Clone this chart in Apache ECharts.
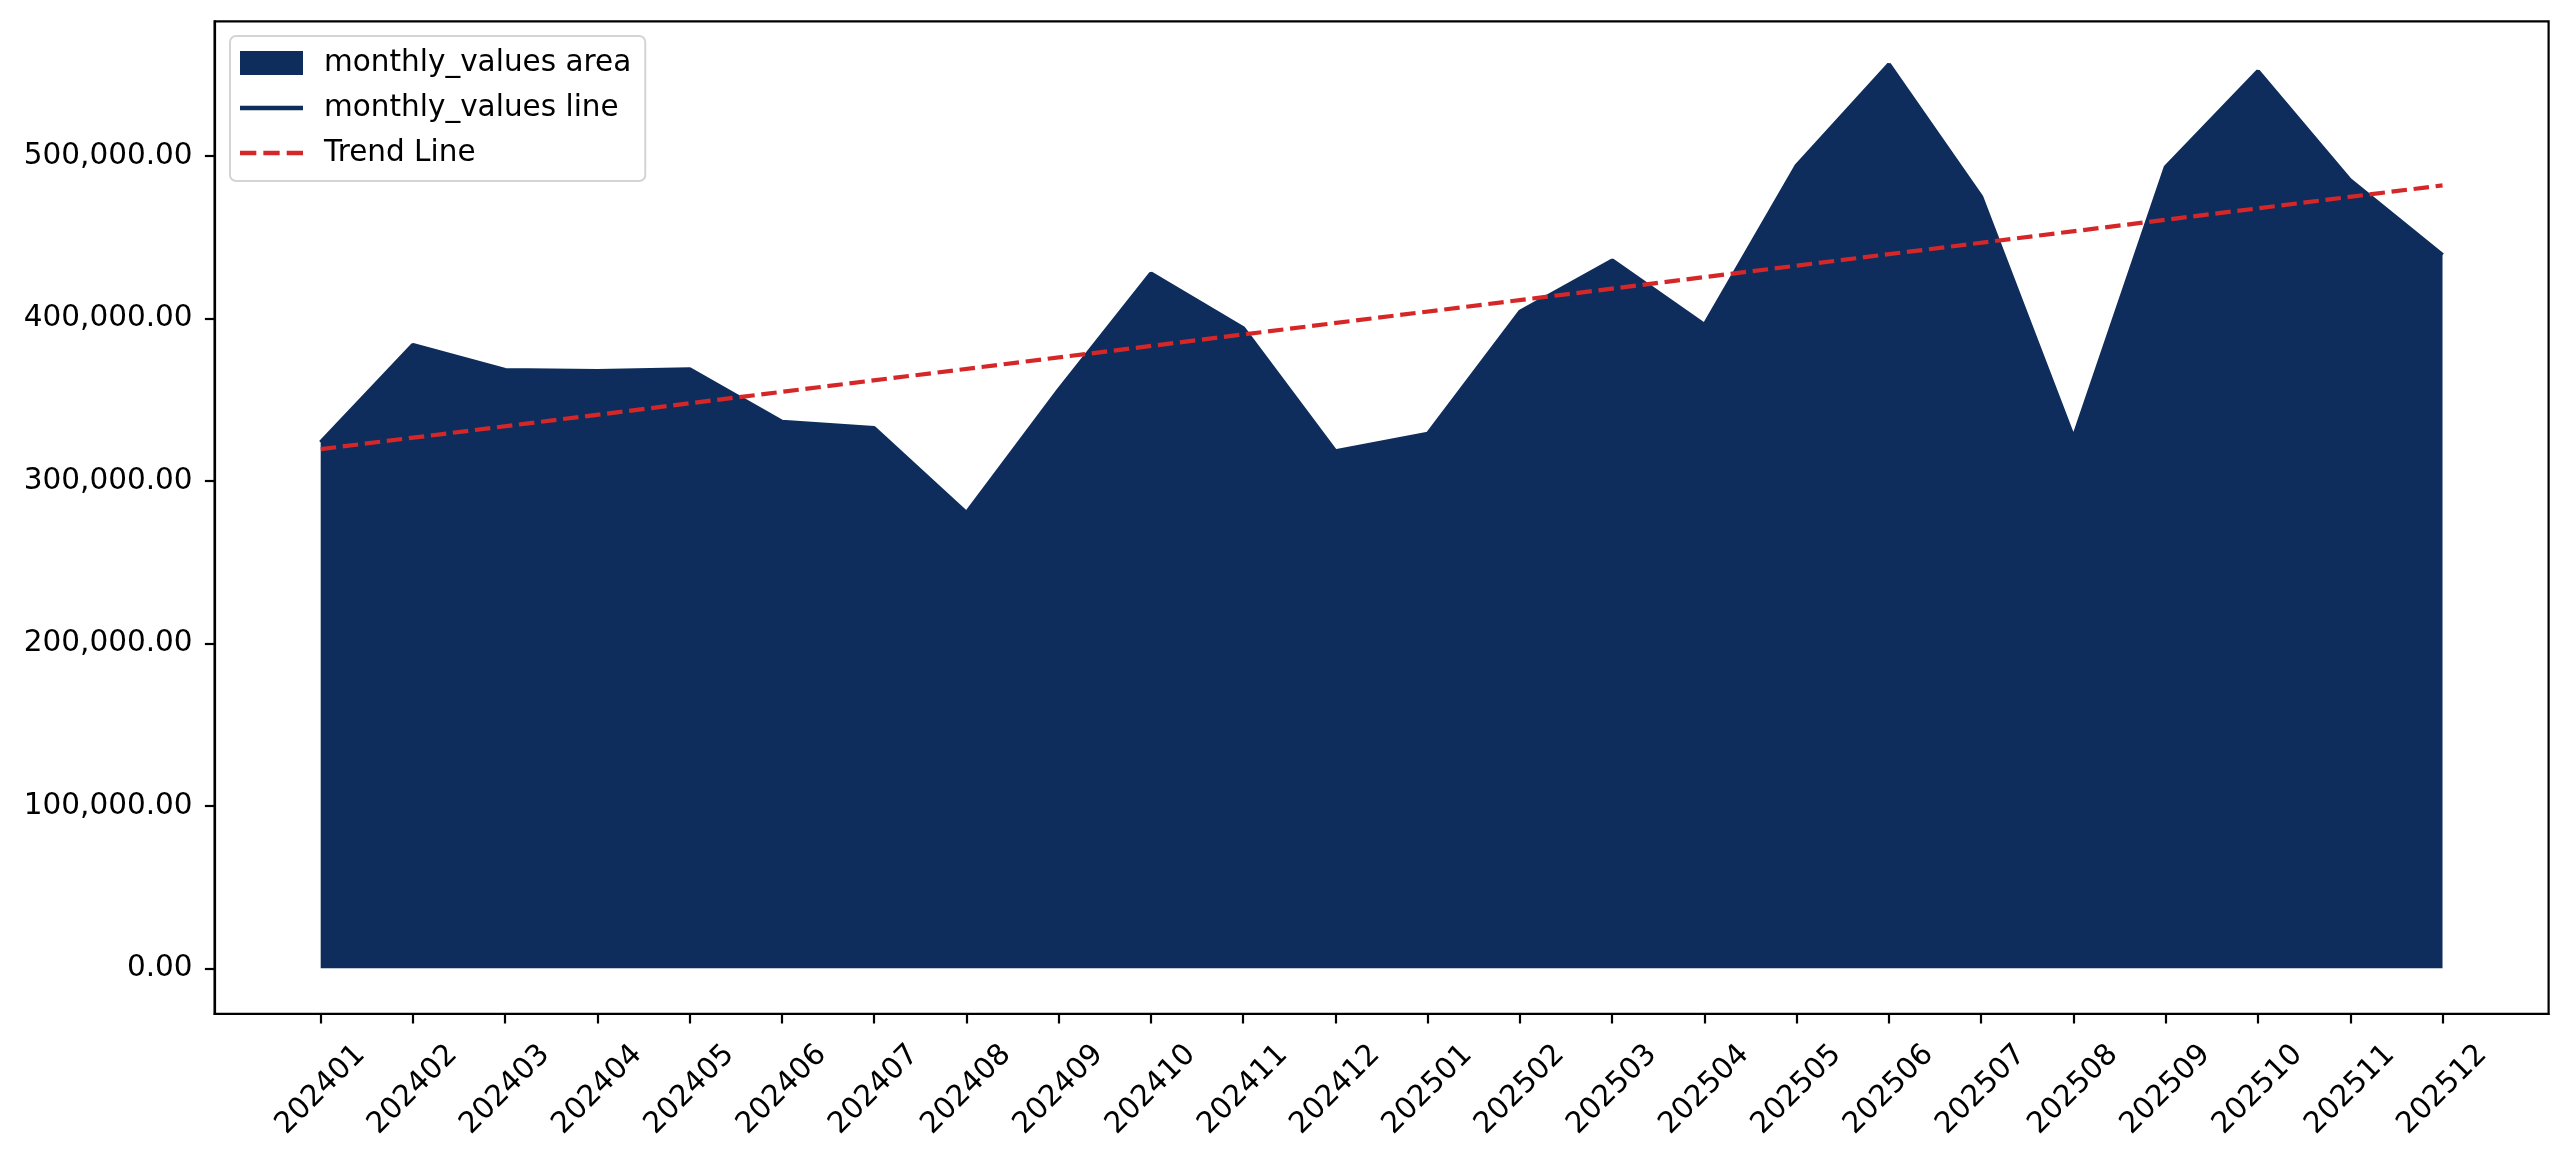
<!DOCTYPE html>
<html>
<head>
<meta charset="utf-8">
<title>monthly values</title>
<script src="https://cdn.jsdelivr.net/npm/echarts@6/dist/echarts.min.js"></script>
<style>
  html, body { margin: 0; padding: 0; background: #fff; }
  #chart { width: 2568px; height: 1158px; }
</style>
</head>
<body>
<div id="chart"></div>
<script>
// months on the x axis
const months = [
  '202401', '202402', '202403', '202404', '202405', '202406',
  '202407', '202408', '202409', '202410', '202411', '202412',
  '202501', '202502', '202503', '202504', '202505', '202506',
  '202507', '202508', '202509', '202510', '202511', '202512'
]

// monthly values
const monthlyValues = [
  323700, 383700, 368300, 367700, 368800, 336400,
  332500, 280300, 356000, 427700, 394000, 318200,
  329000, 404100, 435700, 396000, 494200, 556500,
  474800, 326400, 493200, 552200, 485000, 439000
]

// trend line end points (first and last month)
const trendIdx = [0, 23]
const trendValues = [319600, 482000]

const yTicks = [0, 100000, 200000, 300000, 400000, 500000]

const navy = '#0e2d5c'
const red = '#d62728'
const font = 'DejaVu Sans'
const fs = 29.5

const valuePairs = monthlyValues.map((v, i) => [i, v])
const trendPairs = trendIdx.map((x, i) => [x, trendValues[i]])
const tickIdx = months.map((m, i) => i)

const fmt = v => v.toLocaleString('en-US', { minimumFractionDigits: 2, maximumFractionDigits: 2 })

// legend handles drawn like matplotlib: a solid stroke and a dashed stroke
const solidIcon = 'path://M0,0H60V4.2H0Z'
const dashIcon = 'path://M0,0H15.5V4.2H0Z M22.2,0H37.7V4.2H22.2Z M44.4,0H59.9V4.2H44.4Z'

const chart = echarts.init(document.getElementById('chart'), null, { renderer: 'canvas' })

chart.setOption({
  animation: false,
  backgroundColor: '#fff',
  grid: {
    left: 214.6, top: 21.3, right: 19.4, bottom: 144.2,
    show: true, borderColor: '#000', borderWidth: 2.2, backgroundColor: 'transparent'
  },
  legend: {
    orient: 'vertical',
    left: 230, top: 36,
    padding: [12, 14, 13, 10],
    backgroundColor: '#fff',
    borderColor: '#d4d4d4',
    borderWidth: 2,
    borderRadius: 6,
    itemWidth: 63,
    itemHeight: 24,
    itemGap: 15,
    symbolKeepAspect: true,
    textStyle: { fontFamily: font, fontSize: fs, color: '#000', padding: [0, 0, 0, 16] },
    data: [
      { name: 'monthly_values area', icon: 'rect' },
      { name: 'monthly_values line', icon: solidIcon },
      { name: 'Trend Line', icon: dashIcon }
    ]
  },
  xAxis: {
    type: 'value',
    min: -1.15,
    max: 24.15,
    splitLine: { show: false },
    axisLine: { show: true, onZero: false, lineStyle: { color: '#000', width: 2.2 } },
    axisTick: { show: true, length: 9.7, customValues: tickIdx, lineStyle: { color: '#000', width: 2.2 } },
    axisLabel: {
      customValues: tickIdx,
      formatter: v => months[Math.round(v)],
      rotate: 45,
      align: 'center',
      verticalAlign: 'middle',
      margin: 76,
      fontFamily: font,
      fontSize: fs,
      color: '#000'
    }
  },
  yAxis: {
    type: 'value',
    min: -28000,
    max: 583000,
    splitLine: { show: false },
    axisLine: { show: true, onZero: false, lineStyle: { color: '#000', width: 2.2 } },
    axisTick: { show: true, length: 9.7, customValues: yTicks, lineStyle: { color: '#000', width: 2.2 } },
    axisLabel: {
      customValues: yTicks,
      formatter: fmt,
      margin: 22,
      fontFamily: font,
      fontSize: fs,
      color: '#000'
    }
  },
  series: [
    {
      name: 'monthly_values area',
      type: 'line',
      data: valuePairs,
      symbol: 'none',
      color: navy,
      lineStyle: { width: 0 },
      areaStyle: { color: navy, opacity: 1, origin: 0 },
      z: 1
    },
    {
      name: 'monthly_values line',
      type: 'line',
      data: valuePairs,
      symbol: 'none',
      color: navy,
      lineStyle: { color: navy, width: 4.2 },
      z: 2
    },
    {
      name: 'Trend Line',
      type: 'line',
      data: trendPairs,
      symbol: 'none',
      color: red,
      lineStyle: { color: red, width: 4.2, type: [15.5, 6.7] },
      z: 3
    }
  ]
})
</script>
</body>
</html>
